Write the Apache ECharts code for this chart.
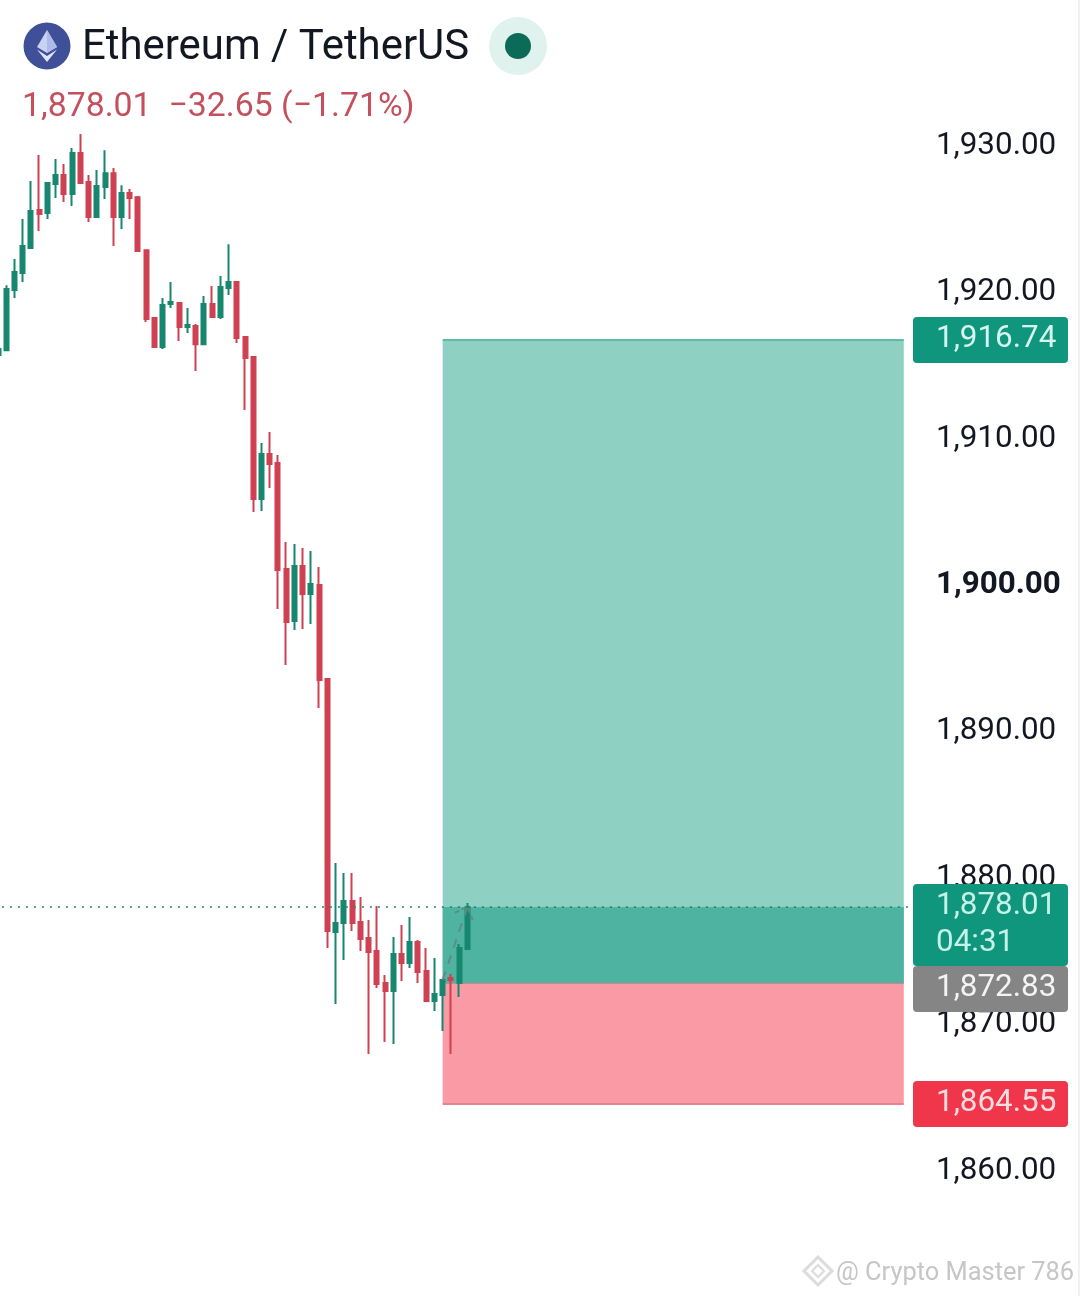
<!DOCTYPE html>
<html><head><meta charset="utf-8">
<style>html,body{margin:0;padding:0;background:#fff}#c{width:1080px;height:1296px}</style>
<script src="https://cdn.jsdelivr.net/npm/echarts@6/dist/echarts.min.js"></script>
</head><body><div id="c"></div>
<script>
const opens = [1915.71,1916.05,1920.15,1921.31,1923.02,1925.62,1925.41,1927.39,1928.01,1926.71,1929.51,1927.53,1925.14,1927.19,1928.14,1925.14,1926.78,1926.50,1922.88,1918.24,1916.26,1919.20,1919.27,1917.63,1917.69,1916.46,1919.20,1918.31,1920.29,1920.70,1916.94,1915.58,1905.88,1908.95,1908.34,1901.10,1897.55,1901.30,1899.39,1900.00,1893.58,1876.30,1876.92,1878.42,1876.99,1875.89,1875.01,1872.82,1872.27,1874.80,1874.19,1875.62,1873.64,1871.59,1872.00,1873.16,1872.82,1875.14];
const closes = [1916.12,1920.22,1921.38,1923.16,1925.55,1925.34,1927.46,1928.01,1926.71,1929.51,1927.46,1925.14,1927.26,1928.14,1925.14,1926.78,1926.44,1922.82,1918.17,1916.26,1919.13,1919.33,1917.63,1917.76,1916.46,1919.20,1918.31,1920.36,1920.70,1916.87,1915.51,1905.88,1908.95,1908.27,1901.03,1897.48,1901.30,1899.39,1900.07,1893.52,1876.37,1876.92,1878.42,1876.92,1875.83,1874.94,1872.75,1872.27,1874.80,1874.19,1875.62,1873.57,1871.59,1872.07,1873.03,1873.03,1875.21,1878.01];
const lows = [1915.71,1916.05,1919.61,1920.70,1922.95,1924.18,1925.00,1926.44,1926.16,1925.89,1927.46,1924.80,1925.14,1926.37,1923.16,1924.32,1925.00,1922.82,1917.97,1916.19,1916.12,1918.92,1916.67,1917.22,1914.62,1916.46,1918.31,1918.17,1919.81,1916.53,1911.96,1904.99,1905.06,1906.63,1898.37,1894.54,1896.93,1897.00,1897.34,1891.60,1875.21,1871.39,1874.39,1876.37,1875.01,1867.97,1872.48,1868.79,1868.65,1872.96,1873.85,1872.82,1871.59,1870.91,1869.54,1867.97,1871.86,1875.14];
const highs = [1916.12,1920.49,1922.27,1925.00,1927.60,1929.37,1927.46,1929.10,1928.76,1929.85,1930.81,1928.01,1928.35,1929.71,1928.49,1927.32,1927.05,1926.57,1922.88,1918.24,1919.61,1920.70,1919.33,1918.92,1917.83,1919.74,1920.43,1921.11,1923.29,1920.70,1916.94,1915.58,1909.70,1910.45,1908.88,1902.94,1902.80,1902.53,1902.33,1901.23,1893.58,1881.02,1880.33,1880.33,1878.69,1877.12,1878.08,1873.37,1875.96,1876.78,1877.33,1875.76,1875.21,1874.53,1873.03,1873.44,1875.48,1878.29];
const barSlots = 111;
const categories = Array.from({length: barSlots}, (_, i) => 'b' + i);

const priceTicks = ['1,860.00','1,870.00','1,880.00','1,890.00','1,900.00','1,910.00','1,920.00','1,930.00'];
const lastPrice = 1878.01;
const targetPrice = 1916.74;
const entryPrice = 1872.83;
const stopPrice = 1864.55;
const positionStartBar = 54;
const positionEndBar = 110;

const zoneTops = [targetPrice, lastPrice, entryPrice];
const zoneBottoms = [entryPrice, entryPrice, stopPrice];
const zoneColors = ['#8ed1c3', '#4fb3a1', '#fa9aa5'];
const edgePrices = [targetPrice, entryPrice, stopPrice];
const edgeColors = ['#62b8a6', '#7f9d95', '#e9808d'];

const tagPrices = [targetPrice, lastPrice, entryPrice, stopPrice];
const tagLines = [['1,916.74'], ['1,878.01','04:31'], ['1,872.83'], ['1,864.55']];
const tagColors = ['#0f967c', '#0f967c', '#858585', '#f0364b'];
const tagTextColors = ['#d6f5ee', '#c5f3e8', '#f4f4f4', '#fbdde0'];

const FONT = 'Roboto, sans-serif';
const chart = echarts.init(document.getElementById('c'), null, {renderer:'canvas'});

function zoneItem(params, api) {
  const i = api.value(0);
  const a = api.coord([positionStartBar, zoneTops[i]]);
  const b = api.coord([positionEndBar, zoneBottoms[i]]);
  return {type:'rect', shape:{x:a[0], y:a[1], width:b[0]-a[0], height:b[1]-a[1]}, style:{fill:zoneColors[i]}};
}
function edgeItem(params, api) {
  const i = api.value(0);
  const a = api.coord([positionStartBar, edgePrices[i]]);
  const b = api.coord([positionEndBar, edgePrices[i]]);
  return {type:'line', shape:{x1:a[0], y1:a[1], x2:b[0], y2:b[1]}, style:{stroke:edgeColors[i], lineWidth:2}};
}
function arrowItem(params, api) {
  const a = api.coord([positionStartBar, closes[positionStartBar]]);
  const b = api.coord([opens.length-1, lastPrice]);
  const c = '#5f8d84';
  return {type:'group', children:[
    {type:'line', shape:{x1:a[0], y1:a[1], x2:b[0], y2:b[1]}, style:{stroke:c, lineWidth:2, lineDash:[9,8]}},
    {type:'line', shape:{x1:b[0]-1, y1:b[1], x2:b[0]-13, y2:b[1]+6}, style:{stroke:c, lineWidth:2, lineDash:[5,3]}},
    {type:'line', shape:{x1:b[0]+1, y1:b[1]+1, x2:b[0]+6, y2:b[1]+15}, style:{stroke:c, lineWidth:2, lineDash:[5,3]}}
  ]};
}
let tagBottom = -Infinity;
function tagItem(params, api) {
  const i = api.value(0);
  const lines = tagLines[i];
  const h = lines.length > 1 ? 82 : 46;
  const y = api.coord([positionEndBar, tagPrices[i]])[1];
  if (i === 0) tagBottom = -Infinity;
  const top = Math.max(y - 23, tagBottom);
  tagBottom = top + h;
  const kids = [{type:'rect', shape:{x:913, y:top, width:155, height:h, r:4}, style:{fill:tagColors[i]}}];
  lines.forEach((t, k) => kids.push({type:'text', x:936, y:top + 22.5 + k*37,
    style:{text:t, fill:tagTextColors[i], font:'31.4px '+FONT, textVerticalAlign:'middle', textAlign:'left'}}));
  return {type:'group', children:kids};
}
const idx = a => a.map((_, i) => [i]);

chart.setOption({
  animation:false,
  backgroundColor:'#ffffff',
  grid:{left:-6.1, top:-0.5, width:914, height:1171.2, containLabel:false, outerBoundsMode:'none'},
  xAxis:{type:'category', data:categories, boundaryGap:true, show:false},
  yAxis:{type:'value', position:'right', min:1860, max:1940, interval:10, scale:true,
    axisLine:{show:false}, axisTick:{show:false}, splitLine:{show:false},
    axisLabel:{show:true, showMaxLabel:false, showMinLabel:true, margin:28, align:'left', padding:[0,0,0,0],
      fontFamily:FONT, fontSize:31.4, color:'#131722',
      formatter:v => {
        const k = Math.round((v-1860)/10);
        const s = priceTicks[k] || '';
        return v === 1900 ? '{b|'+s+'}' : '{n|'+s+'}';
      },
      rich:{n:{fontFamily:FONT,fontSize:31.4,color:'#131722'}, b:{fontFamily:FONT,fontSize:31.4,fontWeight:'bold',color:'#131722'}}
    }},
  series:[
    {type:'custom', z:1, silent:true, renderItem:zoneItem, data:idx(zoneTops), encode:{x:-1,y:-1}},
    {type:'custom', z:1.5, silent:true, renderItem:edgeItem, data:idx(edgePrices), encode:{x:-1,y:-1}},
    {type:'candlestick', z:3, clip:false, barWidth:4.5,
      data:opens.map((o,i)=>[o,closes[i],lows[i],highs[i]]),
      itemStyle:{color:'#17876f', color0:'#cf4052', borderColor:'#17876f', borderColor0:'#cf4052', borderWidth:2},
      markLine:{silent:true, symbol:'none', label:{show:false}, animation:false,
        lineStyle:{type:[2,6], color:'#17876f', width:1.6},
        data:[{yAxis:lastPrice}]}},
    {type:'custom', z:4, silent:true, renderItem:arrowItem, data:[[0]], encode:{x:-1,y:-1}},
    {type:'custom', z:6, silent:true, renderItem:tagItem, data:idx(tagPrices), encode:{x:-1,y:-1}}
  ],
  graphic:[
    {type:'circle', shape:{cx:47,cy:46,r:23.5}, style:{fill:'#3f4f98'}},
    {type:'polygon', shape:{points:[[47,30],[37,47],[47,53],[57,47]]}, style:{fill:'#c9d2f2'}},
    {type:'polygon', shape:{points:[[47,30],[47,53],[57,47]]}, style:{fill:'#aebaea'}},
    {type:'polygon', shape:{points:[[37,49.5],[47,62],[57,49.5],[47,56]]}, style:{fill:'#dfe4f8'}},
    {type:'text', x:82, y:49, style:{text:'Ethereum / TetherUS', font:'41.9px '+FONT, fill:'#131722', textVerticalAlign:'middle'}},
    {type:'circle', shape:{cx:518,cy:46,r:29}, style:{fill:'#dff2ee'}},
    {type:'circle', shape:{cx:518,cy:46,r:13}, style:{fill:'#0b6b58'}},
    {type:'text', x:22, y:108, style:{text:'1,878.01', font:'33.8px '+FONT, fill:'#c4505e', textVerticalAlign:'middle'}},
    {type:'text', x:168.5, y:108, style:{text:'\u221232.65 (\u22121.71%)', font:'33.8px '+FONT, fill:'#c4505e', textVerticalAlign:'middle'}},
    {type:'polygon', shape:{points:[[818,1257],[832,1271],[818,1285],[804,1271]]}, style:{fill:'none', stroke:'#dcdcdc', lineWidth:3}},
    {type:'polygon', shape:{points:[[818,1265],[824,1271],[818,1277],[812,1271]]}, style:{fill:'none', stroke:'#dcdcdc', lineWidth:2}},
    {type:'text', x:836, y:1274, style:{text:'@ Crypto Master 786', font:'25.4px '+FONT, fill:'#c6c6c6', textVerticalAlign:'middle'}},
    {type:'rect', shape:{x:1078,y:0,width:2,height:1296}, style:{fill:'#f1f1f1'}}
  ]
});
</script></body></html>
